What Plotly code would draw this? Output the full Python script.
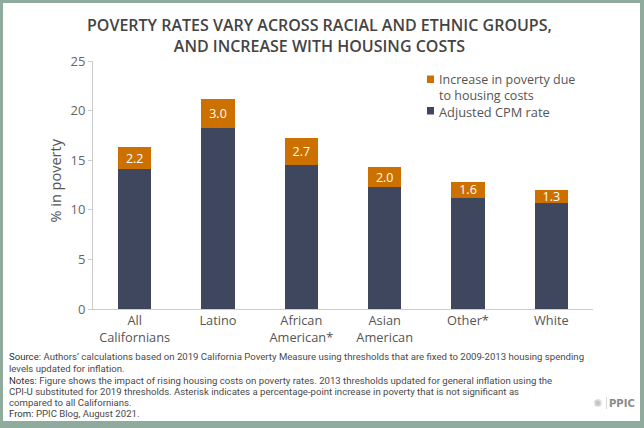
import plotly.graph_objects as go

categories = ["All<br>Californians", "Latino", "African<br>American*", "Asian<br>American", "Other*", "White"]
adjusted_cpm = [14.1, 18.2, 14.5, 12.3, 11.2, 10.7]
housing_increase = [2.2, 3.0, 2.7, 2.0, 1.6, 1.3]
y_ticks = [0, 5, 10, 15, 20, 25]

NAVY = "#3f475e"
ORANGE = "#cc7000"
BORDER = "#8fab9d"
W, H = 644, 428
L, R, T, B = 93, 51, 61, 119
PW, PH = W - L - R, H - T - B

def px(x):
    return (x - L) / PW

def py(y):
    return (H - B - y) / PH

fig = go.Figure()
fig.add_trace(go.Bar(x=categories, y=adjusted_cpm, marker_color=NAVY,
                     marker_line_width=0, name="Adjusted CPM rate", width=0.4,
                     hoverinfo="skip"))
fig.add_trace(go.Bar(x=categories, y=housing_increase, marker_color=ORANGE,
                     marker_line_width=0, name="Increase in poverty due to housing costs",
                     width=0.4, text=[f"{v:.1f}" for v in housing_increase],
                     textposition="inside", insidetextanchor="middle", textangle=0,
                     textfont=dict(color="white", size=12.5, family="Open Sans"),
                     hoverinfo="skip"))

P = dict(xref="paper", yref="paper")
shapes = []
# outer frame
shapes.append(dict(type="rect", **P, x0=px(0), x1=px(W), y0=py(H), y1=py(0),
                   fillcolor=BORDER, line_width=0, layer="below"))
shapes.append(dict(type="rect", **P, x0=px(3), x1=px(W - 4), y0=py(H - 7), y1=py(3),
                   fillcolor="white", line_width=0, layer="below"))
# legend squares
shapes.append(dict(type="rect", **P, x0=px(427), x1=px(434), y0=py(83), y1=py(75.5),
                   fillcolor=ORANGE, line_width=0))
shapes.append(dict(type="rect", **P, x0=px(427), x1=px(434), y0=py(114.5), y1=py(107),
                   fillcolor=NAVY, line_width=0))
# logo separator
shapes.append(dict(type="line", **P, x0=px(606.5), x1=px(606.5), y0=py(397), y1=py(409),
                   line=dict(color="#d8d8d8", width=1)))

ann = []
TXT = "#555555"
ann.append(dict(**P, text="POVERTY RATES VARY ACROSS RACIAL AND ETHNIC GROUPS,<br>AND INCREASE WITH HOUSING COSTS",
                x=px(319), y=py(35), xanchor="center", yanchor="middle", showarrow=False,
                font=dict(family="Open Sans", size=16, color="#444444", weight=600)))
ann.append(dict(**P, text="Increase in poverty due<br>to housing costs", x=px(436.5), y=py(87),
                xanchor="left", yanchor="middle", align="left", showarrow=False,
                font=dict(family="Open Sans", size=12.5, color=TXT)))
ann.append(dict(**P, text="Adjusted CPM rate", x=px(436.5), y=py(111.5), xanchor="left", yanchor="middle",
                showarrow=False, font=dict(family="Open Sans", size=12.8, color=TXT)))
ann.append(dict(**P, text="% in poverty", x=px(54.5), y=py(181), xanchor="center", yanchor="middle",
                textangle=-90, showarrow=False, font=dict(family="Open Sans", size=14.5, color=TXT)))

foot = [
    (356, "<span style='color:#333'>Source:</span> Authors’ calculations based on 2019 California Poverty Measure using thresholds that are fixed to 2009-2013 housing spending"),
    (368, "levels updated for inflation."),
    (380, "<span style='color:#333'>Notes:</span> Figure shows the impact of rising housing costs on poverty rates. 2013 thresholds updated for general inflation using the"),
    (391.5, "CPI-U substituted for 2019 thresholds. Asterisk indicates a percentage-point increase in poverty that is not significant as"),
    (402.5, "compared to all Californians."),
    (413, "<span style='color:#333'>From:</span> PPIC Blog, August 2021."),
]
for yy, t in foot:
    ann.append(dict(**P, text=t, x=px(7), y=py(yy), xanchor="left", yanchor="middle", showarrow=False,
                    font=dict(family="Roboto", size=9.6, color="#4a4a4a")))

ann.append(dict(**P, text="<b>PPIC</b>", x=px(622), y=py(403), xanchor="center", yanchor="middle", showarrow=False,
                font=dict(family="DejaVu Sans", size=10, color="#8a8a8a")))
ann.append(dict(**P, text="✺", x=px(597), y=py(403), xanchor="center", yanchor="middle", showarrow=False,
                font=dict(family="DejaVu Sans", size=11, color="#c4c4c4")))

fig.update_layout(
    width=W, height=H, autosize=False,
    margin=dict(l=L, r=R, t=T, b=B, pad=0),
    barmode="stack", showlegend=False,
    paper_bgcolor=BORDER, plot_bgcolor="rgba(0,0,0,0)",
    shapes=shapes, annotations=ann,
    uniformtext=dict(minsize=12.5, mode="show"),
    font=dict(family="Open Sans", color=TXT),
)
fig.update_xaxes(range=[-0.5, 5.5], showline=True, linecolor="#cccccc", linewidth=1, ticks="",
                 tickangle=0, tickfont=dict(family="Open Sans", size=12.8, color=TXT), showgrid=False,
                 fixedrange=True)
fig.update_yaxes(range=[0, 25], tickvals=y_ticks, showline=True, linecolor="#cccccc", linewidth=1,
                 ticks="outside", ticklen=4, tickcolor="#cccccc", showgrid=False, zeroline=False,
                 tickfont=dict(family="Open Sans", size=13, color="#666666"), fixedrange=True)

fig.write_html("out.html", config={"displayModeBar": False})
